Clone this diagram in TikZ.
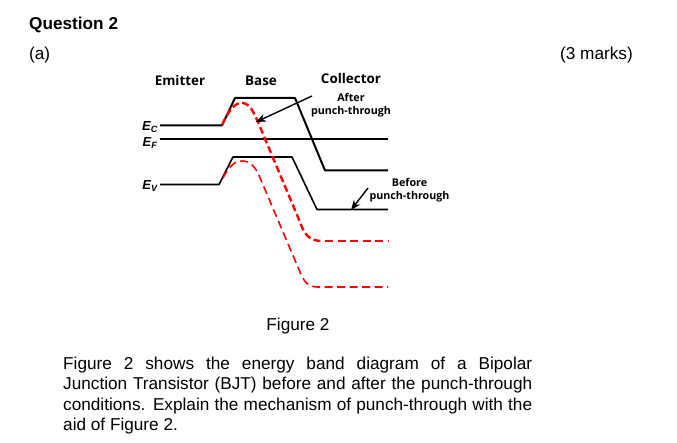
\documentclass[tikz,border=0pt]{standalone}
\usepackage{fontspec}
\setmainfont{Liberation Sans}
\newfontfamily\labelfont{Open Sans}
\usetikzlibrary{arrows.meta}
\tikzset{
  x=1pt,y=-1pt,
  band/.style={line width=2pt,line join=round,black},
  thinband/.style={line width=1.6pt,line join=round,black},
  redthick/.style={line width=2.4pt,red,dash pattern=on 7pt off 3.5pt},
  redthin/.style={line width=1.6pt,red,dash pattern=on 8pt off 4.5pt},
  callout/.style={line width=1.4pt,black,-{Stealth[length=10pt,width=8pt]}},
  head/.style={font=\labelfont\bfseries\fontsize{13.4}{15}\selectfont,inner sep=0pt},
  small/.style={font=\labelfont\bfseries\fontsize{10.7}{13}\selectfont,inner sep=0pt,align=center},
  lvl/.style={font=\fontsize{13}{13}\selectfont\bfseries\itshape,inner sep=0pt},
  body/.style={font=\fontsize{17.2}{20.3}\selectfont,inner sep=0pt}
}
\begin{document}
\begin{tikzpicture}
\useasboundingbox (0,0) rectangle (677,443);
\node[anchor=base west,font=\bfseries\fontsize{17.2}{20}\selectfont,inner sep=0pt] (q) at (29,29.5) {Question 2};
\node[body,anchor=base west] (a) at (29,60) {(a)};
\node[body,anchor=base east] (m) at (633,60) {(3 marks)};
\node[head] (em) at (180,80) {Emitter};
\node[head] (ba) at (261,80.5) {Base};
\node[head] (co) at (351,78.5) {Collector};
\node[small] (ap) at (351,105.5) {After\\punch-through};
\node[small] (bp) at (409.5,190) {Before\\punch-through};
\node[lvl] (ec) at (150,127) {E\textsubscript{C}};
\node[lvl] (ef) at (150,143) {E\textsubscript{F}};
\node[lvl] (ev) at (150,186) {E\textsubscript{V}};
% solid bands
\coordinate (c0) at (160,125.5);
\coordinate (c1) at (388,170.5);
\coordinate (f0) at (160,139);
\coordinate (f1) at (388,139);
\coordinate (v0) at (160,184.5);
\coordinate (v1) at (388,209.5);
\draw[band] (c0) -- (222,125.5) -- (235,98) -- (295,98) -- (325,170.5) -- (c1);
\draw[thinband] (f0) -- (f1);
\draw[thinband] (v0) -- (219,184.5) -- (233,157) -- (292,157) -- (317,209.5) -- (v1);
% red dashed bands
\draw[redthick] (222,125) .. controls (229,110) and (235,102) .. (243,103)
  .. controls (250,104) and (254,113) .. (258,122) -- (300,222)
  .. controls (304,233) and (308,241) .. (322,241);
\draw[redthin] (325,241) -- (388,241);
\draw[redthin] (223,178) .. controls (229,166) and (235,161) .. (242,161)
  .. controls (250,161) and (254,166) .. (258,173) -- (300,272)
  .. controls (304,282) and (308,287) .. (318,287) -- (388,287);
% callouts
\coordinate (a0) at (312,96);
\coordinate (a1) at (256,122);
\coordinate (b0) at (368,188);
\coordinate (b1) at (351,210);
\draw[callout] (a0) -- (a1);
\draw[callout] (b0) -- (b1);
\node[body,anchor=base] (fig) at (298,331) {Figure 2};
\node[body,anchor=north west,text width=469pt,align=justify] (txt) at (63,357)
 {\hyphenpenalty=10000 Figure 2 shows the energy band diagram of a Bipolar\linebreak Junction Transistor (BJT) before and after the punch-through\linebreak conditions. Explain the mechanism of punch-through with the\linebreak aid of Figure 2.};
\end{tikzpicture}
\end{document}
